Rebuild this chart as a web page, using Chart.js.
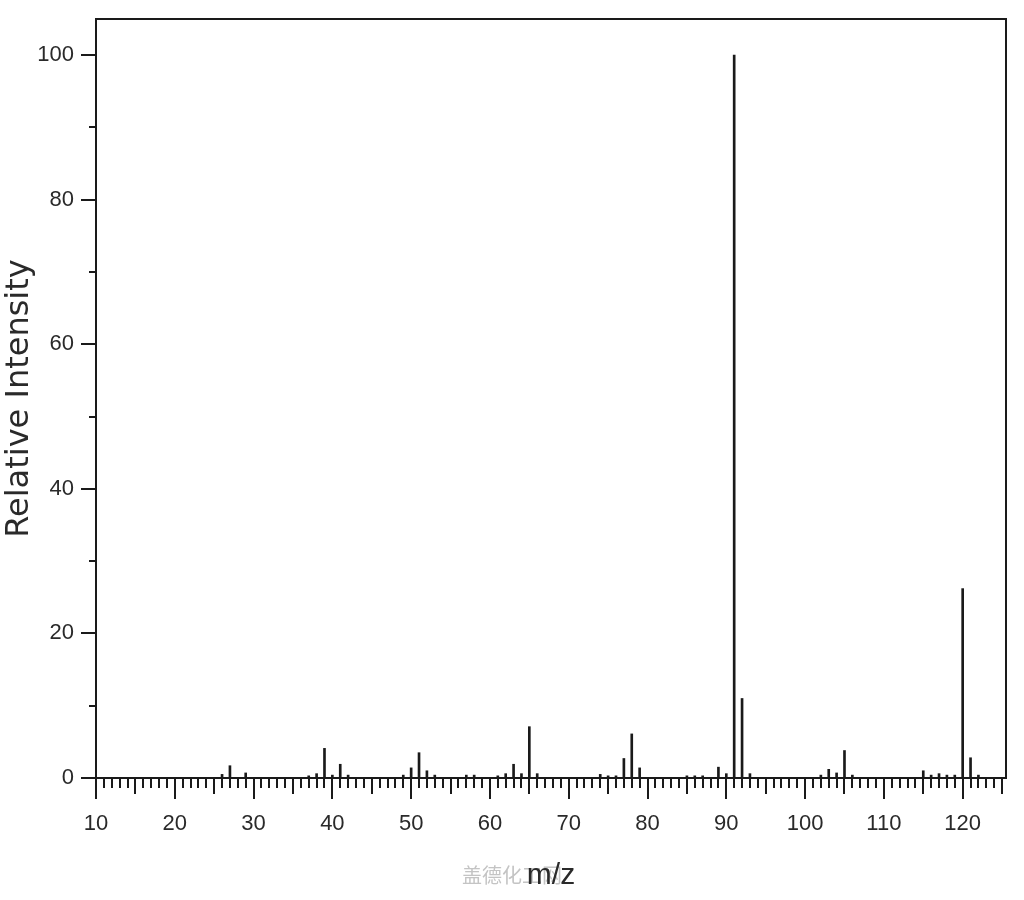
<!DOCTYPE html>
<html>
<head>
<meta charset="utf-8">
<script src="https://cdn.jsdelivr.net/npm/chart.js@4/dist/chart.umd.min.js"></script>
<style>
  html, body { margin: 0; padding: 0; background: #fff; }
  #wrap { width: 1024px; height: 900px; }
</style>
</head>
<body>
<div id="wrap"><canvas id="myChart1" width="1024" height="900"></canvas></div>
<script>
// peaks
var mz = [26, 27, 29, 37, 38, 39, 40, 41, 42, 49, 50, 51, 52, 53, 57, 58,
          61, 62, 63, 64, 65, 66, 74, 75, 76, 77, 78, 79, 85, 86, 87, 89, 90,
          91, 92, 93, 102, 103, 104, 105, 106, 115, 116, 117, 118, 119, 120, 121, 122];
var intensity = [0.5, 1.7, 0.7, 0.3, 0.6, 4.1, 0.4, 1.9, 0.4, 0.4, 1.4, 3.5, 1.0, 0.4, 0.4, 0.4,
                 0.3, 0.6, 1.9, 0.6, 7.1, 0.6, 0.5, 0.3, 0.3, 2.7, 6.1, 1.4, 0.3, 0.3, 0.3, 1.5, 0.6,
                 100, 11.0, 0.6, 0.4, 1.2, 0.7, 3.8, 0.4, 1.0, 0.4, 0.6, 0.4, 0.4, 26.2, 2.8, 0.4];
var xTickLabels = [10, 20, 30, 40, 50, 60, 70, 80, 90, 100, 110, 120];
var yTickLabels = [0, 20, 40, 60, 80, 100];

var points = [];
for (var n = 0; n < mz.length; n++) {
    points.push({ x: mz[n], y: intensity[n] });
}

var lineColor = '#1a1a1a';
var textColor = '#2a2a2a';
var tickFont = { family: "'Liberation Sans', sans-serif", size: 22 };

// no extra room for the outer labels, the frame is placed by layout padding
function noLabelPadding(scale) {
    scale.paddingTop = 0;
    scale.paddingBottom = 0;
    scale.paddingLeft = 0;
    scale.paddingRight = 0;
}

// frame, tick marks and the watermark
var framePlugin = {
    id: 'frame',
    beforeDraw: function (chart) {
        var ctx = chart.ctx;
        ctx.save();
        ctx.fillStyle = '#c4c4c4';
        ctx.font = "20px 'Noto Sans CJK SC'";
        ctx.textBaseline = 'middle';
        ctx.fillText('盖德化工网', 462, 875);
        ctx.restore();
    },
    afterDraw: function (chart) {
        var ctx = chart.ctx;
        var a = chart.chartArea;
        var xs = chart.scales.x, ys = chart.scales.y;
        ctx.save();
        ctx.strokeStyle = lineColor;
        ctx.lineWidth = 2;
        ctx.strokeRect(a.left, a.top, a.right - a.left, a.bottom - a.top);
        ctx.beginPath();
        for (var m = 10; m <= 125; m++) {
            var px = Math.round(xs.getPixelForValue(m));
            var len = m % 10 === 0 ? 21 : (m % 5 === 0 ? 16 : 10);
            ctx.moveTo(px, a.bottom);
            ctx.lineTo(px, a.bottom + len);
        }
        for (var v = 0; v <= 100; v += 10) {
            var py = Math.round(ys.getPixelForValue(v));
            var l = v % 20 === 0 ? 15 : 7;
            ctx.moveTo(a.left - l, py);
            ctx.lineTo(a.left, py);
        }
        ctx.stroke();
        ctx.restore();
    }
};

var ctx = document.getElementById("myChart1").getContext('2d');
var thisChart = new Chart(ctx, {
    type: 'bar',
    data: {
        datasets: [{
            data: points,
            backgroundColor: lineColor,
            borderWidth: 0,
            barThickness: 2
        }]
    },
    options: {
        responsive: false,
        animation: false,
        devicePixelRatio: 1,
        layout: { padding: { top: 19, right: 18, left: 0, bottom: 0 } },
        plugins: { legend: { display: false }, tooltip: { enabled: false } },
        scales: {
            x: {
                type: 'linear',
                offset: false,
                min: 10,
                max: 125.5,
                grid: { display: false, drawTicks: false, offset: false },
                border: { display: false },
                ticks: {
                    stepSize: 1,
                    autoSkip: false,
                    maxRotation: 0,
                    padding: 33,
                    color: textColor,
                    font: tickFont,
                    callback: function (val) { return xTickLabels.indexOf(val) >= 0 ? String(val) : ''; }
                },
                title: {
                    display: true,
                    text: 'm/z',
                    color: textColor,
                    font: { family: "'Liberation Sans', sans-serif", size: 30 },
                    padding: { top: 0, bottom: 6 }
                },
                afterFit: function (scale) {
                    scale.height = 122;
                    noLabelPadding(scale);
                }
            },
            y: {
                min: 0,
                max: 105,
                grid: { display: false, drawTicks: false },
                border: { display: false },
                ticks: {
                    stepSize: 10,
                    padding: 22,
                    color: textColor,
                    font: tickFont,
                    callback: function (val) { return yTickLabels.indexOf(val) >= 0 ? String(val) : ''; }
                },
                title: {
                    display: true,
                    text: 'Relative Intensity',
                    color: textColor,
                    font: { family: "'DejaVu Sans', sans-serif", size: 32 },
                    padding: { top: 0, bottom: 0 }
                },
                afterFit: function (scale) {
                    scale.width = 96;
                    noLabelPadding(scale);
                }
            }
        }
    },
    plugins: [framePlugin]
});
</script>
</body>
</html>
